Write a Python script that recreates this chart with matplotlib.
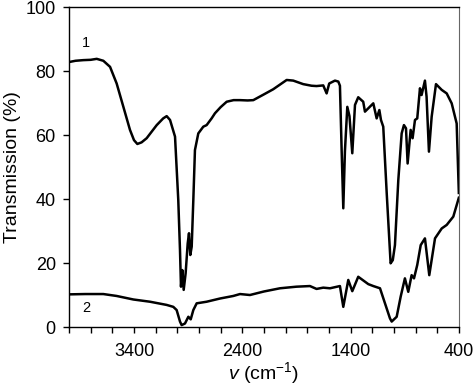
import numpy as np
import matplotlib
matplotlib.use('Agg')
import matplotlib.pyplot as plt

plt.rcParams['font.family'] = ['Liberation Sans', 'DejaVu Sans']
plt.rcParams['mathtext.fontset'] = 'custom'
plt.rcParams['mathtext.it'] = 'Liberation Sans:italic'
plt.rcParams['mathtext.rm'] = 'Liberation Sans'

# spectrum 1 (wavenumber, transmission)
wn1 = [4000, 3940, 3868, 3800, 3744, 3683, 3621, 3560, 3498, 3437, 3400, 3369,
       3330, 3283, 3190, 3130, 3098, 3067, 3021, 2991, 2975, 2966, 2954, 2941,
       2923, 2904, 2892, 2880, 2867, 2852, 2837, 2806, 2760, 2729, 2683, 2652,
       2600, 2544, 2480, 2421, 2350, 2298, 2200, 2114, 2050, 1990, 1929, 1837,
       1760, 1714, 1652, 1621, 1597, 1544, 1513, 1498, 1482, 1467, 1452, 1430,
       1410, 1384, 1359, 1329, 1283, 1267, 1190, 1159, 1134, 1119, 1098, 1066,
       1030, 1010, 990, 959, 928, 907, 888, 873, 845, 827, 805, 784, 759, 744,
       713, 698, 676, 651, 611, 558, 512, 466, 420, 400]
tr1 = [82.9, 83.3, 83.5, 83.6, 83.9, 83.3, 81.4, 76.2, 68.9, 61.7, 58.5, 57.3,
       57.8, 59.1, 63.2, 65.3, 66.0, 64.8, 59.6, 39.8, 24.0, 12.7, 17.9, 11.7,
       16.9, 26.2, 29.4, 22.6, 25.2, 39.8, 55.4, 60.6, 62.7, 63.2, 65.3, 66.9,
       68.8, 70.5, 71.0, 71.0, 70.9, 71.0, 72.8, 74.4, 75.9, 77.3, 77.1, 76.0,
       75.5, 75.4, 75.6, 73.1, 76.2, 77.1, 76.8, 75.5, 55.0, 37.2, 55.0, 68.9,
       66.0, 54.4, 69.5, 71.9, 70.5, 67.4, 70.0, 65.3, 67.9, 64.8, 62.7, 41.9,
       20.0, 21.0, 25.7, 46.0, 60.6, 63.2, 62.2, 51.2, 61.7, 59.1, 64.8, 65.3,
       74.7, 72.6, 77.1, 72.1, 54.9, 65.8, 76.0, 74.2, 73.1, 70.0, 63.7, 42.0]

# spectrum 2
wn2 = [4000, 3850, 3683, 3560, 3406, 3252, 3098, 3037, 3006, 2975, 2960, 2929,
       2898, 2876, 2852, 2821, 2729, 2606, 2483, 2421, 2329, 2200, 2052, 1900,
       1775, 1714, 1652, 1590, 1498, 1467, 1421, 1384, 1329, 1236, 1190, 1128,
       1082, 1036, 1020, 974, 937, 898, 867, 836, 814, 784, 752, 713, 673, 620,
       558, 512, 451, 400]
tr2 = [10.3, 10.4, 10.4, 9.8, 8.7, 8.0, 7.0, 6.4, 5.4, 1.8, 0.7, 1.2,
       3.3, 2.5, 5.4, 7.5, 8.0, 9.0, 9.8, 10.4, 10.1, 11.2, 12.2, 12.7,
       12.9, 12.0, 12.4, 12.2, 12.9, 6.4, 14.8, 11.3, 15.8, 13.5, 12.9, 12.2,
       7.5, 2.8, 1.8, 3.3, 9.6, 15.3, 11.1, 16.3, 15.3, 19.5, 25.7, 27.8, 16.3, 27.8,
       30.9, 32.0, 34.6, 40.5]

xticks = [3400, 2400, 1400, 400]

fig = plt.figure(figsize=(4.74, 3.86), dpi=100)
ax = fig.add_axes([0.1456, 0.152, 0.8224, 0.829])

ax.plot(wn1, tr1, color='black', lw=1.8)
ax.plot(wn2, tr2, color='black', lw=1.8)

ax.text(3843, 88.9, '1', fontsize=10.5, ha='center', va='center')
ax.text(3843, 5.9, '2', fontsize=10.5, ha='center', va='center')

ax.set_xlim(4000, 400)
ax.set_ylim(0, 100)
ax.set_xticks(np.arange(400, 4001, 200))
ax.set_xticklabels([str(t) if t in xticks else '' for t in range(400, 4001, 200)])
ax.set_yticks(np.arange(0, 101, 20))
ax.tick_params(direction='out', length=4.5, width=1, labelsize=13, pad=5)
ax.tick_params(axis='x', length=4, pad=7)

ax.set_xlabel(r'$v$ (cm$^{-1}$)', fontsize=14, labelpad=0.5)
ax.set_ylabel('Transmission (%)', fontsize=14, labelpad=3)

for s in ['left', 'bottom', 'top']:
    ax.spines[s].set_linewidth(1)
ax.spines['right'].set_color('#666666')

fig.savefig('out.png', dpi=100)
